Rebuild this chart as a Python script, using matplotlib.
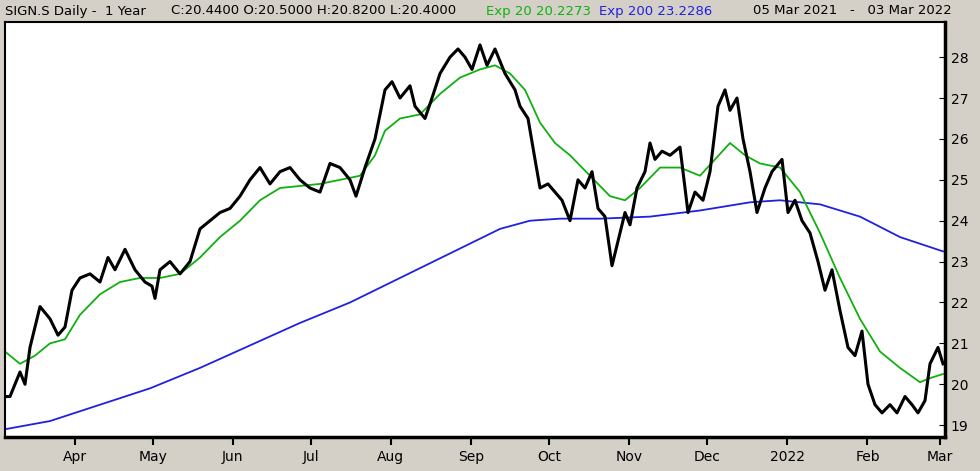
import numpy as np
import pandas as pd
import matplotlib
matplotlib.use("Agg")
import matplotlib.pyplot as plt
import matplotlib.dates as mdates

start = pd.Timestamp("2021-03-05")
px_per_day = 2.59

# close price (horizontal position in chart px, value)
close_px = [5, 10, 20, 25, 30, 40, 50, 58, 65, 72, 80, 90, 100, 108, 115, 125, 135, 145, 152, 155,
            160, 170, 180, 190, 200, 210, 220, 230, 240, 250, 260, 270, 280, 290, 300, 310, 320, 330,
            340, 350, 356, 365, 375, 385, 392, 400, 410, 415, 425, 432, 440, 450, 458, 465, 472, 480,
            487, 495, 505, 515, 520, 528, 535, 540, 548, 555, 562, 570, 578, 585, 592, 598, 605, 612,
            618, 625, 630, 637, 645, 650, 655, 662, 670, 680, 688, 695, 703, 710, 718, 725, 730, 737,
            743, 750, 757, 765, 772, 782, 788, 795, 802, 810, 818, 825, 832, 840, 848, 855, 862, 868,
            875, 882, 890, 897, 905, 912, 918, 925, 930, 938, 943]
close = [19.7, 19.7, 20.3, 20.0, 20.9, 21.9, 21.6, 21.2, 21.4, 22.3, 22.6, 22.7, 22.5, 23.1, 22.8, 23.3,
         22.8, 22.5, 22.4, 22.1, 22.8, 23.0, 22.7, 23.0, 23.8, 24.0, 24.2, 24.3, 24.6, 25.0, 25.3, 24.9,
         25.2, 25.3, 25.0, 24.8, 24.7, 25.4, 25.3, 25.0, 24.6, 25.3, 26.0, 27.2, 27.4, 27.0, 27.3, 26.8,
         26.5, 27.0, 27.6, 28.0, 28.2, 28.0, 27.7, 28.3, 27.8, 28.2, 27.6, 27.2, 26.8, 26.5, 25.5, 24.8,
         24.9, 24.7, 24.5, 24.0, 25.0, 24.8, 25.2, 24.3, 24.1, 22.9, 23.5, 24.2, 23.9, 24.8, 25.2, 25.9,
         25.5, 25.7, 25.6, 25.8, 24.2, 24.7, 24.5, 25.2, 26.8, 27.2, 26.7, 27.0, 26.0, 25.2, 24.2, 24.8,
         25.2, 25.5, 24.2, 24.5, 24.0, 23.7, 23.0, 22.3, 22.8, 21.8, 20.9, 20.7, 21.3, 20.0, 19.5, 19.3,
         19.5, 19.3, 19.7, 19.5, 19.3, 19.6, 20.5, 20.9, 20.5]

ema20_px = [5, 20, 35, 50, 65, 80, 100, 120, 140, 160, 180, 200, 220, 240, 260, 280, 300, 320, 340, 360,
            375, 385, 400, 420, 440, 460, 480, 495, 510, 525, 540, 555, 570, 590, 610, 625, 640, 660,
            680, 700, 715, 730, 745, 760, 780, 800, 820, 840, 860, 880, 900, 920, 930, 943]
ema20 = [20.8, 20.5, 20.7, 21.0, 21.1, 21.7, 22.2, 22.5, 22.6, 22.6, 22.7, 23.1, 23.6, 24.0, 24.5, 24.8,
         24.85, 24.9, 25.0, 25.1, 25.6, 26.2, 26.5, 26.6, 27.1, 27.5, 27.7, 27.8, 27.6, 27.2, 26.4, 25.9,
         25.6, 25.1, 24.6, 24.5, 24.8, 25.3, 25.3, 25.1, 25.5, 25.9, 25.6, 25.4, 25.3, 24.7, 23.7, 22.6,
         21.6, 20.8, 20.4, 20.05, 20.15, 20.25]

ema200_px = [5, 50, 100, 150, 200, 250, 300, 350, 400, 450, 500, 530, 560, 600, 650, 700, 750, 780,
             820, 860, 900, 943]
ema200 = [18.9, 19.1, 19.5, 19.9, 20.4, 20.95, 21.5, 22.0, 22.6, 23.2, 23.8, 24.0, 24.05, 24.05, 24.1,
          24.25, 24.45, 24.5, 24.4, 24.1, 23.6, 23.25]


def to_dates(px):
    return [start + pd.Timedelta(days=(p - 5) / px_per_day) for p in px]


fig = plt.figure(figsize=(9.8, 4.71), dpi=100, facecolor="#d4d0c8")
ax = fig.add_axes([5 / 980, 34 / 471, 940 / 980, 415 / 471])
ax.set_facecolor("white")

ax.plot(to_dates(ema200_px), ema200, color="#2020e0", lw=1.3)
ax.plot(to_dates(ema20_px), ema20, color="#10b010", lw=1.3)
ax.plot(to_dates(close_px), close, color="black", lw=2.2)

ax.set_xlim(start, start + pd.Timedelta(days=940 / px_per_day))
ax.set_ylim(18.71, 28.86)
ax.yaxis.tick_right()
ax.set_yticks(range(19, 29))
ax.tick_params(axis="y", direction="in", length=4, labelsize=10, pad=4)
ax.tick_params(axis="x", direction="out", length=6, width=1.5, labelsize=10)

ticks = [pd.Timestamp(d) for d in ["2021-04-01", "2021-05-01", "2021-06-01", "2021-07-01", "2021-08-01",
                                   "2021-09-01", "2021-10-01", "2021-11-01", "2021-12-01", "2022-01-01",
                                   "2022-02-01", "2022-03-01"]]
labels = ["Apr", "May", "Jun", "Jul", "Aug", "Sep", "Oct", "Nov", "Dec", "2022", "Feb", "Mar"]
ax.set_xticks(ticks)
ax.set_xticklabels(labels)

for s in ax.spines.values():
    s.set_linewidth(1.5)
ax.spines["bottom"].set_linewidth(2.5)
ax.spines["right"].set_linewidth(2.5)

y = 1 - 11 / 471
fs = 9.5
fig.text(5 / 980, y, "SIGN.S Daily -  1 Year", fontsize=fs, va="center")
fig.text(171 / 980, y, "C:20.4400 O:20.5000 H:20.8200 L:20.4000", fontsize=fs, va="center")
fig.text(486 / 980, y, "Exp 20 20.2273", fontsize=fs, va="center", color="#10b010")
fig.text(599 / 980, y, "Exp 200 23.2286", fontsize=fs, va="center", color="#2020e0")
fig.text(753 / 980, y, "05 Mar 2021   -   03 Mar 2022", fontsize=fs, va="center")

fig.savefig("out.png", dpi=100, facecolor=fig.get_facecolor())
